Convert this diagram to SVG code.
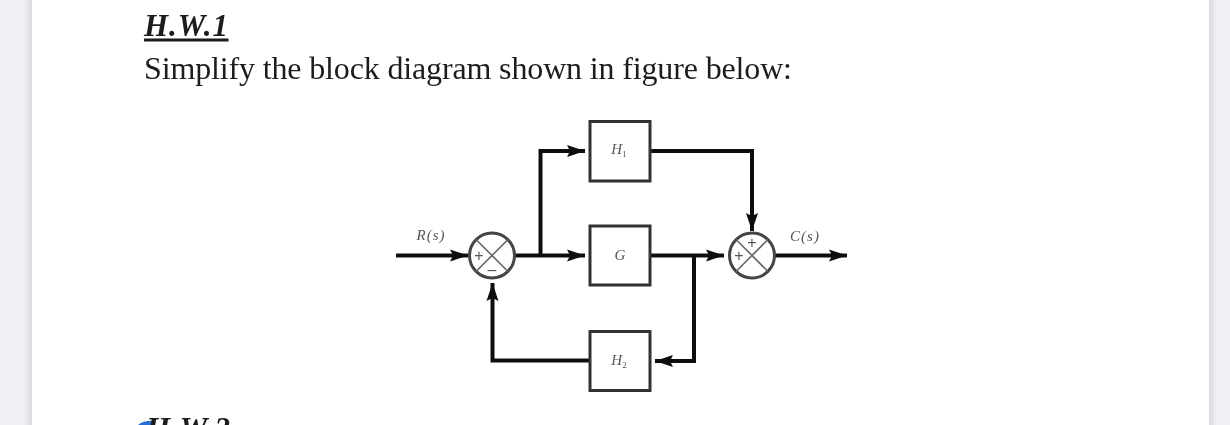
<svg xmlns="http://www.w3.org/2000/svg" width="1230" height="425" viewBox="0 0 1230 425">
<style>
.bg{fill:#efeff6}
.page{fill:#fff}
.title{font-family:"Liberation Serif",serif;fill:#1c1c1c;font-size:32px}
.head{font-size:31px;font-weight:bold;font-style:italic}
.box{fill:#fff;stroke:#333;stroke-width:3}
.sum{fill:#fff;stroke:#444;stroke-width:3}
.cross{stroke:#666;stroke-width:1.6;fill:none}
.wire{stroke:#111;stroke-width:4;fill:none}
.lbl{font-family:"Liberation Serif",serif;font-style:italic;font-size:15px;fill:#555;text-anchor:middle}
.sign{font-family:"Liberation Sans",sans-serif;font-size:16px;fill:#555;text-anchor:middle}
.sub{font-size:9px;font-style:normal}
</style>
<defs>
<marker id="arrow" markerUnits="userSpaceOnUse" markerWidth="20" markerHeight="16" refX="18" refY="8" orient="auto">
<path d="M0 2 L18 8 L0 14 L3 8 Z" fill="#111"/>
</marker>
<linearGradient id="shadeL" x1="0" x2="1" y1="0" y2="0">
<stop offset="0" stop-color="#efeff6"/><stop offset="1" stop-color="#d9d9df"/>
</linearGradient>
<linearGradient id="shadeR" x1="0" x2="1" y1="0" y2="0">
<stop offset="0" stop-color="#d9d9df"/><stop offset="1" stop-color="#efeff6"/>
</linearGradient>
<filter id="soft" x="-5%" y="-5%" width="110%" height="110%"><feGaussianBlur stdDeviation="0.5"/></filter>
</defs>
<rect class="bg" width="1230" height="425"/>
<rect x="24" width="8" height="425" fill="url(#shadeL)"/>
<rect x="1209" width="7" height="425" fill="url(#shadeR)"/>
<rect class="page" x="32" width="1177" height="425"/>
<path d="M138 425Q144 420 155 421L155 425Z" fill="#2a6fd0"/>
<g filter="url(#soft)">
<g id="heading">
<text class="title head" x="144" y="36" textLength="84" lengthAdjust="spacing">H.W.1</text>
<rect x="144" y="38.500" width="84.500" height="3" fill="#1c1c1c"/>
<text class="title" x="144" y="79" textLength="648" lengthAdjust="spacing">Simplify the block diagram shown in figure below:</text>
<text class="title head" x="146" y="439" textLength="84" lengthAdjust="spacing">H.W.2</text>
</g>
<g id="connectors">
<path class="wire" d="M396 255.500H468" marker-end="url(#arrow)"/>
<path class="wire" d="M515 255.500H585" marker-end="url(#arrow)"/>
<path class="wire" d="M540.500 255.500V151H585" marker-end="url(#arrow)"/>
<path class="wire" d="M650 151H752V231" marker-end="url(#arrow)"/>
<path class="wire" d="M650 255.500H724" marker-end="url(#arrow)"/>
<path class="wire" d="M694 255.500V361H655" marker-end="url(#arrow)"/>
<path class="wire" d="M590 360.500H492.500V283" marker-end="url(#arrow)"/>
<path class="wire" d="M775 255.500H847" marker-end="url(#arrow)"/>
</g>
<g id="sum1">
<circle class="sum" cx="492" cy="255.500" r="22.500"/>
<path class="cross" d="M476 239.500L508 271.500M508 239.500L476 271.500"/>
<text class="sign" x="479" y="261">+</text>
<text class="sign" x="492" y="275">–</text>
</g>
<g id="sum2">
<circle class="sum" cx="752" cy="255.500" r="22.500"/>
<path class="cross" d="M736 239.500L768 271.500M768 239.500L736 271.500"/>
<text class="sign" x="739" y="261">+</text>
<text class="sign" x="752" y="248">+</text>
</g>
<g id="H1">
<rect class="box" x="590" y="121.500" width="60" height="59.500"/>
<text class="lbl" x="619" y="154">H<tspan class="sub" dy="3">1</tspan></text>
</g>
<g id="G">
<rect class="box" x="590" y="226" width="60" height="59"/>
<text class="lbl" x="620" y="260">G</text>
</g>
<g id="H2">
<rect class="box" x="590" y="331.500" width="60" height="59"/>
<text class="lbl" x="619" y="365">H<tspan class="sub" dy="3">2</tspan></text>
</g>
<g id="labels">
<text class="lbl" x="431" y="240" letter-spacing="1">R(s)</text>
<text class="lbl" x="805" y="241" letter-spacing="1">C(s)</text>
</g>
</g>
</svg>
